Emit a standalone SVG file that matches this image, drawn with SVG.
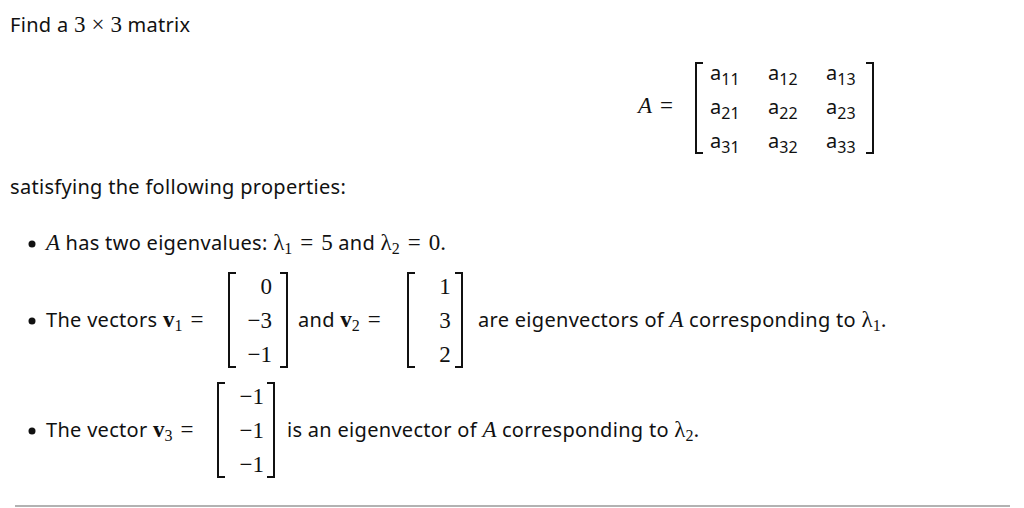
<svg xmlns="http://www.w3.org/2000/svg" width="1024" height="508" viewBox="0 0 1024 508">
<style>
.t{font-family:"Noto Sans","Open Sans",sans-serif;font-size:20px;letter-spacing:0.3px;fill:#111}
.m{font-family:"Liberation Serif","DejaVu Serif",serif;font-size:23px;letter-spacing:0;fill:#111}
.i{font-style:italic}
.b{font-weight:bold}
.s{font-size:16px}
.e{font-family:"Noto Sans",sans-serif;font-size:20px;fill:#111}
.br{fill:none;stroke:#111;stroke-width:2}
</style>
<rect width="1024" height="508" fill="#fff"/>
<text class="t" x="10" y="32">Find a <tspan class="m">3</tspan><tspan class="m" dx="6">×</tspan><tspan class="m" dx="6">3</tspan> matrix</text>
<g id="matrixA">
<text class="m i" x="638" y="113">A</text><text class="m" x="660" y="113">=</text>
<path class="br" d="M703,63 H696 V153 H703 M866,63 H873 V153 H866"/>
<g class="e">
<text x="710" y="80">a<tspan class="s" dy="5">11</tspan></text>
<text x="768" y="80">a<tspan class="s" dy="5">12</tspan></text>
<text x="826" y="80">a<tspan class="s" dy="5">13</tspan></text>
<text x="710" y="114">a<tspan class="s" dy="5">21</tspan></text>
<text x="768" y="114">a<tspan class="s" dy="5">22</tspan></text>
<text x="826" y="114">a<tspan class="s" dy="5">23</tspan></text>
<text x="710" y="148">a<tspan class="s" dy="5">31</tspan></text>
<text x="768" y="148">a<tspan class="s" dy="5">32</tspan></text>
<text x="826" y="148">a<tspan class="s" dy="5">33</tspan></text>
</g>
</g>
<text class="t" x="10" y="194">satisfying the following properties:</text>
<circle cx="32" cy="244" r="3.5" fill="#111"/>
<text class="t" x="46" y="250"><tspan class="m i">A</tspan> has two eigenvalues: <tspan class="m">λ</tspan><tspan class="m s" dy="4">1</tspan><tspan class="m" dy="-4" dx="8">=</tspan><tspan class="m" dx="8">5</tspan> and <tspan class="m">λ</tspan><tspan class="m s" dy="4">2</tspan><tspan class="m" dy="-4" dx="8">=</tspan><tspan class="m" dx="8">0.</tspan></text>
<circle cx="32" cy="321" r="3.5" fill="#111"/>
<text class="t" x="46" y="327">The vectors <tspan class="m b">v</tspan><tspan class="m s" dy="4">1</tspan><tspan class="m" dy="-4" dx="8">=</tspan></text>
<path class="br" d="M236,273 H229 V367 H236 M280,273 H287 V367 H280"/>
<g class="m" text-anchor="end">
<text x="272" y="294">0</text><text x="272" y="328">−3</text><text x="272" y="362">−1</text>
</g>
<text class="t" x="298" y="327">and <tspan class="m b">v</tspan><tspan class="m s" dy="4">2</tspan><tspan class="m" dy="-4" dx="8">=</tspan></text>
<path class="br" d="M415,273 H408 V367 H415 M455,273 H462 V367 H455"/>
<g class="m" text-anchor="middle">
<text x="445" y="294">1</text><text x="445" y="328">3</text><text x="445" y="362">2</text>
</g>
<text class="t" x="478" y="327">are eigenvectors of <tspan class="m i">A</tspan> corresponding to <tspan class="m">λ</tspan><tspan class="m s" dy="4">1</tspan><tspan class="m" dy="-4">.</tspan></text>
<circle cx="32" cy="431" r="3.5" fill="#111"/>
<text class="t" x="46" y="437">The vector <tspan class="m b">v</tspan><tspan class="m s" dy="4">3</tspan><tspan class="m" dy="-4" dx="8">=</tspan></text>
<path class="br" d="M225,383 H218 V477 H225 M267,383 H274 V477 H267"/>
<g class="m" text-anchor="end">
<text x="264" y="404">−1</text><text x="264" y="438">−1</text><text x="264" y="472">−1</text>
</g>
<text class="t" x="287" y="437">is an eigenvector of <tspan class="m i">A</tspan> corresponding to <tspan class="m">λ</tspan><tspan class="m s" dy="4">2</tspan><tspan class="m" dy="-4">.</tspan></text>
<line x1="15" y1="506" x2="1010" y2="506" stroke="#999" stroke-width="1.5"/>
</svg>
